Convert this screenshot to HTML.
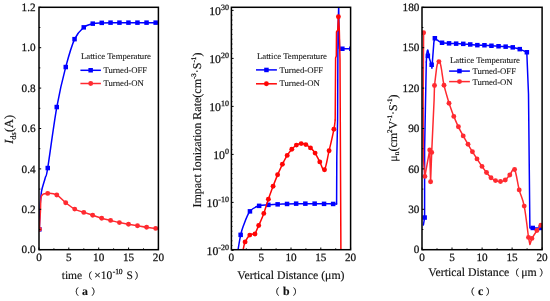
<!DOCTYPE html>
<html><head><meta charset="utf-8"><title>Figure</title>
<style>html,body{margin:0;padding:0;background:#fff}svg{display:block}</style></head>
<body>
<svg width="550" height="301" viewBox="0 0 550 301" font-family="'Liberation Serif', 'Noto Serif CJK SC', serif" fill="#111" text-rendering="geometricPrecision">
<style>text{stroke:#111;stroke-width:0.15px}.lg{stroke-width:0.08px}.tk{stroke-width:0.25px}</style>
<rect width="550" height="301" fill="#fff"/>
<defs>
<clipPath id="ca"><rect x="39.0" y="7.3" width="119.4" height="242.39999999999998"/></clipPath>
<clipPath id="cb"><rect x="231.4" y="7.3" width="119.20000000000002" height="242.39999999999998"/></clipPath>
<clipPath id="cc"><rect x="422.0" y="7.3" width="120.10000000000002" height="242.39999999999998"/></clipPath>
</defs>
<g clip-path="url(#ca)">
<path d="M39.4,229.3 C39.5,225.2 39.9,211.3 40.2,205.0 C40.6,198.7 40.7,195.8 41.5,191.3 C42.3,186.8 44.2,181.9 45.2,178.0 C46.2,174.1 45.8,179.9 47.7,168.1 C49.6,156.3 53.8,123.9 56.8,107.1 C59.8,90.3 62.7,78.4 65.7,67.1 C68.7,55.8 71.6,45.7 74.6,39.1 C77.6,32.5 80.7,30.0 83.7,27.4 C86.7,24.8 89.7,24.4 92.7,23.6 C95.7,22.9 98.7,23.0 101.7,22.9 C104.7,22.8 107.6,22.7 110.6,22.7 C113.6,22.7 116.5,22.7 119.5,22.7 C122.5,22.7 125.5,22.7 128.5,22.7 C131.5,22.7 134.5,22.7 137.5,22.7 C140.5,22.7 143.6,22.7 146.6,22.7 C149.6,22.7 153.7,22.7 155.7,22.7 C157.7,22.7 157.9,22.7 158.4,22.7" fill="none" stroke="#0000ff" stroke-width="1.5" stroke-linejoin="round" stroke-linecap="round"/>
<rect x="37.1" y="227.1" width="4.5" height="4.5" fill="#0000ff"/>
<rect x="45.5" y="165.8" width="4.5" height="4.5" fill="#0000ff"/>
<rect x="54.5" y="104.8" width="4.5" height="4.5" fill="#0000ff"/>
<rect x="63.5" y="64.8" width="4.5" height="4.5" fill="#0000ff"/>
<rect x="72.3" y="36.9" width="4.5" height="4.5" fill="#0000ff"/>
<rect x="81.5" y="25.1" width="4.5" height="4.5" fill="#0000ff"/>
<rect x="90.5" y="21.4" width="4.5" height="4.5" fill="#0000ff"/>
<rect x="99.5" y="20.6" width="4.5" height="4.5" fill="#0000ff"/>
<rect x="108.3" y="20.4" width="4.5" height="4.5" fill="#0000ff"/>
<rect x="117.2" y="20.4" width="4.5" height="4.5" fill="#0000ff"/>
<rect x="126.2" y="20.4" width="4.5" height="4.5" fill="#0000ff"/>
<rect x="135.2" y="20.4" width="4.5" height="4.5" fill="#0000ff"/>
<rect x="144.3" y="20.4" width="4.5" height="4.5" fill="#0000ff"/>
<rect x="153.4" y="20.4" width="4.5" height="4.5" fill="#0000ff"/>
<path d="M39.4,229.3 C39.6,226.4 40.0,217.6 40.4,212.0 C40.8,206.4 40.3,199.1 41.5,196.0 C42.7,192.9 45.2,193.6 47.7,193.4 C50.2,193.2 53.8,193.4 56.8,195.0 C59.8,196.6 62.7,200.3 65.7,202.7 C68.7,205.0 71.7,207.5 74.7,209.1 C77.7,210.7 80.8,211.4 83.8,212.4 C86.8,213.4 89.7,214.2 92.7,215.2 C95.7,216.2 98.7,217.4 101.7,218.3 C104.7,219.2 107.6,219.7 110.6,220.4 C113.5,221.1 116.4,221.9 119.4,222.6 C122.4,223.2 125.5,223.8 128.5,224.3 C131.5,224.8 134.5,225.3 137.5,225.8 C140.5,226.3 143.6,226.9 146.6,227.3 C149.6,227.7 153.7,228.2 155.7,228.4 C157.7,228.6 157.9,228.6 158.4,228.7" fill="none" stroke="#ff2a30" stroke-width="1.5" stroke-linejoin="round" stroke-linecap="round"/>
<circle cx="39.4" cy="229.3" r="2.45" fill="#ff2a30"/>
<circle cx="47.7" cy="193.4" r="2.45" fill="#ff2a30"/>
<circle cx="56.8" cy="195.0" r="2.45" fill="#ff2a30"/>
<circle cx="65.7" cy="202.7" r="2.45" fill="#ff2a30"/>
<circle cx="74.7" cy="209.1" r="2.45" fill="#ff2a30"/>
<circle cx="83.8" cy="212.4" r="2.45" fill="#ff2a30"/>
<circle cx="92.7" cy="215.2" r="2.45" fill="#ff2a30"/>
<circle cx="101.7" cy="218.3" r="2.45" fill="#ff2a30"/>
<circle cx="110.6" cy="220.4" r="2.45" fill="#ff2a30"/>
<circle cx="119.4" cy="222.6" r="2.45" fill="#ff2a30"/>
<circle cx="128.5" cy="224.3" r="2.45" fill="#ff2a30"/>
<circle cx="137.5" cy="225.8" r="2.45" fill="#ff2a30"/>
<circle cx="146.6" cy="227.3" r="2.45" fill="#ff2a30"/>
<circle cx="155.7" cy="228.4" r="2.45" fill="#ff2a30"/>
</g>
<rect x="39.0" y="7.3" width="119.4" height="242.39999999999998" fill="none" stroke="#000" stroke-width="1.5"/>
<line x1="39.0" y1="249.7" x2="39.0" y2="247.5" stroke="#000" stroke-width="1"/>
<line x1="53.9" y1="249.7" x2="53.9" y2="248.35" stroke="#000" stroke-width="1"/>
<line x1="68.8" y1="249.7" x2="68.8" y2="247.5" stroke="#000" stroke-width="1"/>
<line x1="83.8" y1="249.7" x2="83.8" y2="248.35" stroke="#000" stroke-width="1"/>
<line x1="98.7" y1="249.7" x2="98.7" y2="247.5" stroke="#000" stroke-width="1"/>
<line x1="113.6" y1="249.7" x2="113.6" y2="248.35" stroke="#000" stroke-width="1"/>
<line x1="128.6" y1="249.7" x2="128.6" y2="247.5" stroke="#000" stroke-width="1"/>
<line x1="143.5" y1="249.7" x2="143.5" y2="248.35" stroke="#000" stroke-width="1"/>
<line x1="158.4" y1="249.7" x2="158.4" y2="247.5" stroke="#000" stroke-width="1"/>
<text x="39.0" y="261.0" font-size="11.2" class="tk" text-anchor="middle">0</text>
<text x="68.8" y="261.0" font-size="11.2" class="tk" text-anchor="middle">5</text>
<text x="98.7" y="261.0" font-size="11.2" class="tk" text-anchor="middle">10</text>
<text x="128.6" y="261.0" font-size="11.2" class="tk" text-anchor="middle">15</text>
<text x="158.4" y="261.0" font-size="11.2" class="tk" text-anchor="middle">20</text>
<line x1="39.0" y1="249.7" x2="41.2" y2="249.7" stroke="#000" stroke-width="1"/>
<line x1="39.0" y1="229.5" x2="40.35" y2="229.5" stroke="#000" stroke-width="1"/>
<line x1="39.0" y1="209.3" x2="41.2" y2="209.3" stroke="#000" stroke-width="1"/>
<line x1="39.0" y1="189.1" x2="40.35" y2="189.1" stroke="#000" stroke-width="1"/>
<line x1="39.0" y1="168.9" x2="41.2" y2="168.9" stroke="#000" stroke-width="1"/>
<line x1="39.0" y1="148.7" x2="40.35" y2="148.7" stroke="#000" stroke-width="1"/>
<line x1="39.0" y1="128.5" x2="41.2" y2="128.5" stroke="#000" stroke-width="1"/>
<line x1="39.0" y1="108.3" x2="40.35" y2="108.3" stroke="#000" stroke-width="1"/>
<line x1="39.0" y1="88.1" x2="41.2" y2="88.1" stroke="#000" stroke-width="1"/>
<line x1="39.0" y1="67.9" x2="40.35" y2="67.9" stroke="#000" stroke-width="1"/>
<line x1="39.0" y1="47.7" x2="41.2" y2="47.7" stroke="#000" stroke-width="1"/>
<line x1="39.0" y1="27.5" x2="40.35" y2="27.5" stroke="#000" stroke-width="1"/>
<line x1="39.0" y1="7.3" x2="41.2" y2="7.3" stroke="#000" stroke-width="1"/>
<text x="35.6" y="253.4" font-size="11.2" class="tk" text-anchor="end">0.0</text>
<text x="35.6" y="213.0" font-size="11.2" class="tk" text-anchor="end">0.2</text>
<text x="35.6" y="172.6" font-size="11.2" class="tk" text-anchor="end">0.4</text>
<text x="35.6" y="132.2" font-size="11.2" class="tk" text-anchor="end">0.6</text>
<text x="35.6" y="91.8" font-size="11.2" class="tk" text-anchor="end">0.8</text>
<text x="35.6" y="51.4" font-size="11.2" class="tk" text-anchor="end">1.0</text>
<text x="35.6" y="11.0" font-size="11.2" class="tk" text-anchor="end">1.2</text>
<text x="81.0" y="58.5" font-size="8.7" class="lg">Lattice Temperature</text>
<line x1="80.4" y1="70.3" x2="100.9" y2="70.3" stroke="#0000ff" stroke-width="1.5"/>
<rect x="88.4" y="68.0" width="4.5" height="4.5" fill="#0000ff"/>
<text x="103.5" y="72.6" font-size="8.7" class="lg">Turned-OFF</text>
<line x1="80.4" y1="83.5" x2="100.9" y2="83.5" stroke="#ff2a30" stroke-width="1.5"/>
<circle cx="90.7" cy="83.5" r="2.45" fill="#ff2a30"/>
<text x="103.5" y="86.3" font-size="8.7" class="lg">Turned-ON</text>
<text transform="translate(13.0,143.8) rotate(-90)" font-size="12.4"><tspan font-style="italic">I</tspan><tspan font-size="8.5" dy="2.8">ds</tspan><tspan dy="-2.8">(A)</tspan></text>
<text y="278.7" font-size="11.5"><tspan x="61.7">time</tspan><tspan x="83.35" font-size="9" font-weight="600">（</tspan><tspan x="94.3">×10</tspan><tspan font-size="7.6" dy="-4.9" dx="0.5" letter-spacing="-0.2" class="tk">-10 </tspan><tspan x="126.5" dy="4.9">S</tspan><tspan x="134.5" font-size="9" font-weight="600">）</tspan></text>
<text y="295.2" font-size="11.8"><tspan x="69.95" font-size="9" font-weight="600">（</tspan><tspan x="82.0" font-weight="bold">a</tspan><tspan x="91.25" font-size="9" font-weight="600">）</tspan></text>
<g clip-path="url(#cb)">
<path d="M238.0,250.0 C238.4,247.5 239.8,238.8 240.7,234.8 C241.6,230.8 241.8,229.9 243.3,226.0 C244.8,222.1 247.3,214.7 249.9,211.3 C252.5,207.9 256.0,206.9 259.1,205.8 C262.2,204.7 265.3,205.1 268.4,204.8 C271.5,204.6 274.6,204.5 277.7,204.3 C280.8,204.2 283.9,204.0 287.0,203.9 C290.1,203.8 293.1,203.7 296.2,203.7 C299.3,203.7 302.3,203.7 305.4,203.7 C308.5,203.7 311.6,203.7 314.7,203.7 C317.8,203.7 320.9,203.8 324.0,203.8 C327.1,203.8 331.1,203.9 333.2,203.9 C335.3,203.9 336.0,203.9 336.6,203.9" fill="none" stroke="#0000ff" stroke-width="1.5" stroke-linejoin="round" stroke-linecap="round"/>
<polyline points="336.6,203.9 336.8,157.0 337.6,120.0 338.0,30.0 338.7,6.0 339.0,30.0 339.6,48.8 351.0,48.8" fill="none" stroke="#0000ff" stroke-width="1.5" stroke-linejoin="round" stroke-linecap="round" />
<rect x="238.4" y="232.6" width="4.5" height="4.5" fill="#0000ff"/>
<rect x="247.7" y="209.1" width="4.5" height="4.5" fill="#0000ff"/>
<rect x="256.9" y="203.6" width="4.5" height="4.5" fill="#0000ff"/>
<rect x="266.1" y="202.6" width="4.5" height="4.5" fill="#0000ff"/>
<rect x="275.4" y="202.1" width="4.5" height="4.5" fill="#0000ff"/>
<rect x="284.8" y="201.7" width="4.5" height="4.5" fill="#0000ff"/>
<rect x="293.9" y="201.4" width="4.5" height="4.5" fill="#0000ff"/>
<rect x="303.1" y="201.4" width="4.5" height="4.5" fill="#0000ff"/>
<rect x="312.4" y="201.4" width="4.5" height="4.5" fill="#0000ff"/>
<rect x="321.8" y="201.6" width="4.5" height="4.5" fill="#0000ff"/>
<rect x="330.9" y="201.7" width="4.5" height="4.5" fill="#0000ff"/>
<rect x="340.1" y="46.5" width="4.5" height="4.5" fill="#0000ff"/>
<rect x="349.1" y="46.5" width="4.5" height="4.5" fill="#0000ff"/>
<path d="M243.1,250.0 C243.4,248.7 244.0,244.4 245.1,241.9 C246.2,239.4 248.2,236.4 249.8,235.1 C251.5,233.8 254.1,234.2 255.0,234.0" fill="none" stroke="#ff0505" stroke-width="1.5" stroke-linejoin="round" stroke-linecap="round"/>
<path d="M255.0,234.0 C255.6,232.6 257.2,228.9 258.7,225.5 C260.2,222.1 262.2,217.8 263.8,213.4 C265.4,209.0 266.8,203.7 268.4,199.2 C269.9,194.7 271.6,190.3 273.1,186.2 C274.6,182.1 276.1,178.5 277.6,174.8 C279.2,171.2 280.8,167.5 282.4,164.3 C284.0,161.1 285.6,157.9 287.2,155.4 C288.8,152.9 290.3,150.9 291.8,149.2 C293.3,147.5 294.8,146.0 296.4,145.1 C298.0,144.2 299.6,143.7 301.2,143.6 C302.8,143.5 304.2,143.9 305.8,144.6 C307.4,145.3 308.9,146.5 310.5,147.9 C312.1,149.3 313.6,150.8 315.1,153.1 C316.7,155.4 318.2,159.1 319.8,161.9 C321.4,164.7 322.9,171.6 324.5,169.7 C326.1,167.8 327.5,157.4 329.1,150.7 C330.7,144.0 332.9,134.4 333.9,129.3 C334.9,124.2 335.0,121.5 335.2,120.0" fill="none" stroke="#ff0505" stroke-width="1.5" stroke-linejoin="round" stroke-linecap="round"/>
<polyline points="335.2,120.0 335.6,58.0 336.3,56.0 336.5,32.0 337.8,30.0 338.4,16.7 339.3,30.0 340.0,60.0 340.9,250.0" fill="none" stroke="#ff0505" stroke-width="1.5" stroke-linejoin="round" stroke-linecap="round" />
<circle cx="245.1" cy="241.9" r="2.45" fill="#ff0505"/>
<circle cx="249.8" cy="235.1" r="2.45" fill="#ff0505"/>
<circle cx="255.0" cy="234.0" r="2.45" fill="#ff0505"/>
<circle cx="258.7" cy="225.5" r="2.45" fill="#ff0505"/>
<circle cx="263.8" cy="213.4" r="2.45" fill="#ff0505"/>
<circle cx="268.4" cy="199.2" r="2.45" fill="#ff0505"/>
<circle cx="273.1" cy="186.2" r="2.45" fill="#ff0505"/>
<circle cx="277.6" cy="174.8" r="2.45" fill="#ff0505"/>
<circle cx="282.4" cy="164.3" r="2.45" fill="#ff0505"/>
<circle cx="287.2" cy="155.4" r="2.45" fill="#ff0505"/>
<circle cx="291.8" cy="149.2" r="2.45" fill="#ff0505"/>
<circle cx="296.4" cy="145.1" r="2.45" fill="#ff0505"/>
<circle cx="301.2" cy="143.6" r="2.45" fill="#ff0505"/>
<circle cx="305.8" cy="144.6" r="2.45" fill="#ff0505"/>
<circle cx="310.5" cy="147.9" r="2.45" fill="#ff0505"/>
<circle cx="315.1" cy="153.1" r="2.45" fill="#ff0505"/>
<circle cx="319.8" cy="161.9" r="2.45" fill="#ff0505"/>
<circle cx="324.5" cy="169.7" r="2.45" fill="#ff0505"/>
<circle cx="329.1" cy="150.7" r="2.45" fill="#ff0505"/>
<circle cx="333.9" cy="129.3" r="2.45" fill="#ff0505"/>
<circle cx="338.4" cy="16.7" r="2.45" fill="#ff0505"/>
</g>
<rect x="231.4" y="7.3" width="119.20000000000002" height="242.39999999999998" fill="none" stroke="#000" stroke-width="1.5"/>
<line x1="231.4" y1="249.7" x2="231.4" y2="247.5" stroke="#000" stroke-width="1"/>
<line x1="246.3" y1="249.7" x2="246.3" y2="248.35" stroke="#000" stroke-width="1"/>
<line x1="261.2" y1="249.7" x2="261.2" y2="247.5" stroke="#000" stroke-width="1"/>
<line x1="276.1" y1="249.7" x2="276.1" y2="248.35" stroke="#000" stroke-width="1"/>
<line x1="291.0" y1="249.7" x2="291.0" y2="247.5" stroke="#000" stroke-width="1"/>
<line x1="305.9" y1="249.7" x2="305.9" y2="248.35" stroke="#000" stroke-width="1"/>
<line x1="320.8" y1="249.7" x2="320.8" y2="247.5" stroke="#000" stroke-width="1"/>
<line x1="335.7" y1="249.7" x2="335.7" y2="248.35" stroke="#000" stroke-width="1"/>
<line x1="350.6" y1="249.7" x2="350.6" y2="247.5" stroke="#000" stroke-width="1"/>
<text x="231.4" y="261.0" font-size="11.2" class="tk" text-anchor="middle">0</text>
<text x="261.2" y="261.0" font-size="11.2" class="tk" text-anchor="middle">5</text>
<text x="291.0" y="261.0" font-size="11.2" class="tk" text-anchor="middle">10</text>
<text x="320.8" y="261.0" font-size="11.2" class="tk" text-anchor="middle">15</text>
<text x="350.6" y="261.0" font-size="11.2" class="tk" text-anchor="middle">20</text>
<line x1="231.4" y1="250.4" x2="233.6" y2="250.4" stroke="#000" stroke-width="1"/>
<line x1="231.4" y1="245.6" x2="232.65" y2="245.6" stroke="#000" stroke-width="0.6"/>
<line x1="231.4" y1="240.8" x2="232.65" y2="240.8" stroke="#000" stroke-width="0.6"/>
<line x1="231.4" y1="236.0" x2="232.65" y2="236.0" stroke="#000" stroke-width="0.6"/>
<line x1="231.4" y1="231.2" x2="232.65" y2="231.2" stroke="#000" stroke-width="0.6"/>
<line x1="231.4" y1="226.4" x2="232.65" y2="226.4" stroke="#000" stroke-width="0.6"/>
<line x1="231.4" y1="221.6" x2="232.65" y2="221.6" stroke="#000" stroke-width="0.6"/>
<line x1="231.4" y1="216.8" x2="232.65" y2="216.8" stroke="#000" stroke-width="0.6"/>
<line x1="231.4" y1="212.0" x2="232.65" y2="212.0" stroke="#000" stroke-width="0.6"/>
<line x1="231.4" y1="207.2" x2="232.65" y2="207.2" stroke="#000" stroke-width="0.6"/>
<line x1="231.4" y1="202.4" x2="233.6" y2="202.4" stroke="#000" stroke-width="1"/>
<line x1="231.4" y1="197.6" x2="232.65" y2="197.6" stroke="#000" stroke-width="0.6"/>
<line x1="231.4" y1="192.8" x2="232.65" y2="192.8" stroke="#000" stroke-width="0.6"/>
<line x1="231.4" y1="188.0" x2="232.65" y2="188.0" stroke="#000" stroke-width="0.6"/>
<line x1="231.4" y1="183.2" x2="232.65" y2="183.2" stroke="#000" stroke-width="0.6"/>
<line x1="231.4" y1="178.4" x2="232.65" y2="178.4" stroke="#000" stroke-width="0.6"/>
<line x1="231.4" y1="173.6" x2="232.65" y2="173.6" stroke="#000" stroke-width="0.6"/>
<line x1="231.4" y1="168.8" x2="232.65" y2="168.8" stroke="#000" stroke-width="0.6"/>
<line x1="231.4" y1="164.0" x2="232.65" y2="164.0" stroke="#000" stroke-width="0.6"/>
<line x1="231.4" y1="159.2" x2="232.65" y2="159.2" stroke="#000" stroke-width="0.6"/>
<line x1="231.4" y1="154.4" x2="233.6" y2="154.4" stroke="#000" stroke-width="1"/>
<line x1="231.4" y1="149.6" x2="232.65" y2="149.6" stroke="#000" stroke-width="0.6"/>
<line x1="231.4" y1="144.8" x2="232.65" y2="144.8" stroke="#000" stroke-width="0.6"/>
<line x1="231.4" y1="140.0" x2="232.65" y2="140.0" stroke="#000" stroke-width="0.6"/>
<line x1="231.4" y1="135.2" x2="232.65" y2="135.2" stroke="#000" stroke-width="0.6"/>
<line x1="231.4" y1="130.4" x2="232.65" y2="130.4" stroke="#000" stroke-width="0.6"/>
<line x1="231.4" y1="125.6" x2="232.65" y2="125.6" stroke="#000" stroke-width="0.6"/>
<line x1="231.4" y1="120.8" x2="232.65" y2="120.8" stroke="#000" stroke-width="0.6"/>
<line x1="231.4" y1="116.0" x2="232.65" y2="116.0" stroke="#000" stroke-width="0.6"/>
<line x1="231.4" y1="111.2" x2="232.65" y2="111.2" stroke="#000" stroke-width="0.6"/>
<line x1="231.4" y1="106.4" x2="233.6" y2="106.4" stroke="#000" stroke-width="1"/>
<line x1="231.4" y1="101.6" x2="232.65" y2="101.6" stroke="#000" stroke-width="0.6"/>
<line x1="231.4" y1="96.8" x2="232.65" y2="96.8" stroke="#000" stroke-width="0.6"/>
<line x1="231.4" y1="92.0" x2="232.65" y2="92.0" stroke="#000" stroke-width="0.6"/>
<line x1="231.4" y1="87.2" x2="232.65" y2="87.2" stroke="#000" stroke-width="0.6"/>
<line x1="231.4" y1="82.4" x2="232.65" y2="82.4" stroke="#000" stroke-width="0.6"/>
<line x1="231.4" y1="77.6" x2="232.65" y2="77.6" stroke="#000" stroke-width="0.6"/>
<line x1="231.4" y1="72.8" x2="232.65" y2="72.8" stroke="#000" stroke-width="0.6"/>
<line x1="231.4" y1="68.0" x2="232.65" y2="68.0" stroke="#000" stroke-width="0.6"/>
<line x1="231.4" y1="63.2" x2="232.65" y2="63.2" stroke="#000" stroke-width="0.6"/>
<line x1="231.4" y1="58.4" x2="233.6" y2="58.4" stroke="#000" stroke-width="1"/>
<line x1="231.4" y1="53.6" x2="232.65" y2="53.6" stroke="#000" stroke-width="0.6"/>
<line x1="231.4" y1="48.8" x2="232.65" y2="48.8" stroke="#000" stroke-width="0.6"/>
<line x1="231.4" y1="44.0" x2="232.65" y2="44.0" stroke="#000" stroke-width="0.6"/>
<line x1="231.4" y1="39.2" x2="232.65" y2="39.2" stroke="#000" stroke-width="0.6"/>
<line x1="231.4" y1="34.4" x2="232.65" y2="34.4" stroke="#000" stroke-width="0.6"/>
<line x1="231.4" y1="29.6" x2="232.65" y2="29.6" stroke="#000" stroke-width="0.6"/>
<line x1="231.4" y1="24.8" x2="232.65" y2="24.8" stroke="#000" stroke-width="0.6"/>
<line x1="231.4" y1="20.0" x2="232.65" y2="20.0" stroke="#000" stroke-width="0.6"/>
<line x1="231.4" y1="15.2" x2="232.65" y2="15.2" stroke="#000" stroke-width="0.6"/>
<line x1="231.4" y1="10.4" x2="233.6" y2="10.4" stroke="#000" stroke-width="1"/>
<text x="229.0" y="255.2" font-size="11.8" class="tk" text-anchor="end">10<tspan font-size="8" dy="-5.0">-20</tspan></text>
<text x="229.0" y="207.2" font-size="11.8" class="tk" text-anchor="end">10<tspan font-size="8" dy="-5.0">-10</tspan></text>
<text x="229.0" y="159.2" font-size="11.8" class="tk" text-anchor="end">10<tspan font-size="8" dy="-5.0">0</tspan></text>
<text x="229.0" y="111.2" font-size="11.8" class="tk" text-anchor="end">10<tspan font-size="8" dy="-5.0">10</tspan></text>
<text x="229.0" y="63.2" font-size="11.8" class="tk" text-anchor="end">10<tspan font-size="8" dy="-5.0">20</tspan></text>
<text x="229.0" y="15.2" font-size="11.8" class="tk" text-anchor="end">10<tspan font-size="8" dy="-5.0">30</tspan></text>
<text x="257.0" y="58.5" font-size="8.7" class="lg">Lattice Temperature</text>
<line x1="256.0" y1="69.9" x2="276.9" y2="69.9" stroke="#0000ff" stroke-width="1.5"/>
<rect x="264.2" y="67.7" width="4.5" height="4.5" fill="#0000ff"/>
<text x="279.5" y="72.5" font-size="8.7" class="lg">Turned-OFF</text>
<line x1="256.0" y1="83.8" x2="276.9" y2="83.8" stroke="#ff0505" stroke-width="1.5"/>
<circle cx="266.4" cy="83.8" r="2.45" fill="#ff0505"/>
<text x="279.5" y="86.3" font-size="8.7" class="lg">Turned-ON</text>
<text transform="translate(200.8,207.6) rotate(-90)" font-size="12">Impact Ionization Rate(cm<tspan font-size="7" dy="-4.8" class="tk">-3</tspan><tspan dy="4.8">·S</tspan><tspan font-size="7" dy="-4.8" class="tk">-1</tspan><tspan dy="4.8">)</tspan></text>
<text x="237.3" y="279.4" font-size="11.8">Vertical Distance (μm)</text>
<text y="295.2" font-size="11.8"><tspan x="270.5" font-size="9" font-weight="600">（</tspan><tspan x="283.0" font-weight="bold">b</tspan><tspan x="292.65" font-size="9" font-weight="600">）</tspan></text>
<g clip-path="url(#cc)">
<polyline points="423.4,225.0 424.6,217.6 424.6,150.0 425.4,108.0 426.3,62.0" fill="none" stroke="#0000ff" stroke-width="1.5" stroke-linejoin="round" stroke-linecap="round" />
<path d="M426.3,62.0 C426.4,60.7 426.6,56.0 426.8,54.0 C427.0,52.0 427.4,50.1 427.7,50.0 C428.0,49.9 428.3,52.1 428.6,53.5 C428.9,54.9 428.9,56.6 429.4,58.5 C429.9,60.4 431.2,63.7 431.6,64.7" fill="none" stroke="#0000ff" stroke-width="1.5" stroke-linejoin="round" stroke-linecap="round"/>
<polyline points="431.6,64.7 431.9,68.2 433.9,42.0 434.8,38.3" fill="none" stroke="#0000ff" stroke-width="1.5" stroke-linejoin="round" stroke-linecap="round" />
<path d="M434.8,38.3 C435.2,38.6 436.3,39.5 437.5,40.2 C438.7,41.0 440.1,42.3 442.0,42.8 C443.9,43.3 446.7,43.3 449.1,43.4 C451.4,43.5 453.8,43.5 456.1,43.6 C458.5,43.7 460.9,43.8 463.2,43.9 C465.6,44.0 467.9,44.3 470.3,44.5 C472.6,44.7 475.0,45.0 477.4,45.1 C479.7,45.2 482.1,45.2 484.4,45.3 C486.8,45.4 489.1,45.6 491.5,45.7 C493.8,45.9 496.2,46.1 498.6,46.2 C500.9,46.4 503.3,46.4 505.6,46.6 C508.0,46.8 510.3,47.0 512.7,47.4 C515.1,47.8 517.4,48.3 519.8,49.1 C522.1,49.9 525.7,51.8 526.8,52.3" fill="none" stroke="#0000ff" stroke-width="1.5" stroke-linejoin="round" stroke-linecap="round"/>
<polyline points="526.8,52.3 528.5,94.0 529.9,227.9 541.9,227.9" fill="none" stroke="#0000ff" stroke-width="1.5" stroke-linejoin="round" stroke-linecap="round" />
<rect x="422.4" y="215.3" width="4.5" height="4.5" fill="#0000ff"/>
<rect x="425.6" y="53.6" width="4.5" height="4.5" fill="#0000ff"/>
<rect x="429.4" y="62.5" width="4.5" height="4.5" fill="#0000ff"/>
<rect x="432.6" y="36.0" width="4.5" height="4.5" fill="#0000ff"/>
<rect x="439.8" y="40.5" width="4.5" height="4.5" fill="#0000ff"/>
<rect x="446.8" y="41.1" width="4.5" height="4.5" fill="#0000ff"/>
<rect x="453.9" y="41.4" width="4.5" height="4.5" fill="#0000ff"/>
<rect x="461.0" y="41.6" width="4.5" height="4.5" fill="#0000ff"/>
<rect x="468.0" y="42.2" width="4.5" height="4.5" fill="#0000ff"/>
<rect x="475.1" y="42.9" width="4.5" height="4.5" fill="#0000ff"/>
<rect x="482.2" y="43.0" width="4.5" height="4.5" fill="#0000ff"/>
<rect x="489.2" y="43.5" width="4.5" height="4.5" fill="#0000ff"/>
<rect x="496.3" y="44.0" width="4.5" height="4.5" fill="#0000ff"/>
<rect x="503.4" y="44.4" width="4.5" height="4.5" fill="#0000ff"/>
<rect x="510.5" y="45.1" width="4.5" height="4.5" fill="#0000ff"/>
<rect x="517.5" y="46.9" width="4.5" height="4.5" fill="#0000ff"/>
<rect x="524.6" y="50.0" width="4.5" height="4.5" fill="#0000ff"/>
<rect x="530.5" y="225.7" width="4.5" height="4.5" fill="#0000ff"/>
<rect x="538.4" y="225.7" width="4.5" height="4.5" fill="#0000ff"/>
<polyline points="423.6,32.7 423.2,100.0 423.4,160.0 424.9,176.4 429.7,149.9 430.6,181.8 431.7,152.4 434.1,100.0 434.5,85.5" fill="none" stroke="#ff2a30" stroke-width="1.5" stroke-linejoin="round" stroke-linecap="round" />
<path d="M434.5,85.5 C434.9,82.6 436.1,71.8 436.6,68.0 C437.2,64.2 437.4,63.7 437.8,62.6 C438.2,61.5 438.5,61.3 438.9,61.4 C439.3,61.5 439.8,61.6 440.2,63.0 C440.6,64.4 441.0,66.3 441.6,70.0 C442.2,73.7 442.8,79.7 444.0,85.2 C445.2,90.7 448.2,100.2 449.0,103.2" fill="none" stroke="#ff2a30" stroke-width="1.5" stroke-linejoin="round" stroke-linecap="round"/>
<path d="M449.0,103.2 C449.8,105.4 452.2,112.5 453.8,116.4 C455.4,120.3 456.8,123.5 458.4,126.8 C460.0,130.1 461.6,133.0 463.2,135.9 C464.8,138.8 466.5,141.7 468.0,144.3 C469.5,146.9 470.9,149.3 472.4,151.7 C473.9,154.1 475.4,156.4 477.0,158.9 C478.6,161.4 480.4,164.1 482.0,166.4 C483.6,168.7 485.0,170.6 486.5,172.5 C488.0,174.4 489.5,176.3 491.0,177.7 C492.5,179.0 493.9,180.0 495.5,180.6 C497.1,181.2 498.9,181.6 500.5,181.5 C502.1,181.4 503.8,181.1 505.3,180.0 C506.9,178.9 508.2,176.8 509.8,175.0 C511.4,173.2 513.0,167.0 514.6,169.5 C516.2,172.0 517.6,183.8 519.2,189.9 C520.8,196.0 522.7,198.2 524.2,206.1 C525.8,214.0 527.8,232.2 528.5,237.4" fill="none" stroke="#ff2a30" stroke-width="1.5" stroke-linejoin="round" stroke-linecap="round"/>
<polyline points="528.5,237.4 529.9,244.5 531.9,238.4 536.9,230.5 540.9,225.3" fill="none" stroke="#ff2a30" stroke-width="1.5" stroke-linejoin="round" stroke-linecap="round" />
<circle cx="423.6" cy="32.7" r="2.45" fill="#ff2a30"/>
<circle cx="424.9" cy="176.4" r="2.45" fill="#ff2a30"/>
<circle cx="429.7" cy="149.9" r="2.45" fill="#ff2a30"/>
<circle cx="430.6" cy="181.8" r="2.45" fill="#ff2a30"/>
<circle cx="431.7" cy="152.4" r="2.45" fill="#ff2a30"/>
<circle cx="434.5" cy="85.5" r="2.45" fill="#ff2a30"/>
<circle cx="438.9" cy="61.6" r="2.45" fill="#ff2a30"/>
<circle cx="444.0" cy="85.2" r="2.45" fill="#ff2a30"/>
<circle cx="449.0" cy="103.2" r="2.45" fill="#ff2a30"/>
<circle cx="453.8" cy="116.4" r="2.45" fill="#ff2a30"/>
<circle cx="458.4" cy="126.8" r="2.45" fill="#ff2a30"/>
<circle cx="463.2" cy="135.9" r="2.45" fill="#ff2a30"/>
<circle cx="468.0" cy="144.3" r="2.45" fill="#ff2a30"/>
<circle cx="472.4" cy="151.7" r="2.45" fill="#ff2a30"/>
<circle cx="477.0" cy="158.9" r="2.45" fill="#ff2a30"/>
<circle cx="482.0" cy="166.4" r="2.45" fill="#ff2a30"/>
<circle cx="486.5" cy="172.5" r="2.45" fill="#ff2a30"/>
<circle cx="491.0" cy="177.7" r="2.45" fill="#ff2a30"/>
<circle cx="495.5" cy="180.6" r="2.45" fill="#ff2a30"/>
<circle cx="500.5" cy="181.5" r="2.45" fill="#ff2a30"/>
<circle cx="505.3" cy="180.0" r="2.45" fill="#ff2a30"/>
<circle cx="509.8" cy="175.0" r="2.45" fill="#ff2a30"/>
<circle cx="514.6" cy="169.5" r="2.45" fill="#ff2a30"/>
<circle cx="519.2" cy="189.9" r="2.45" fill="#ff2a30"/>
<circle cx="524.2" cy="206.1" r="2.45" fill="#ff2a30"/>
<circle cx="528.5" cy="237.4" r="2.45" fill="#ff2a30"/>
<circle cx="531.9" cy="238.4" r="2.45" fill="#ff2a30"/>
<circle cx="536.9" cy="230.5" r="2.45" fill="#ff2a30"/>
<circle cx="540.9" cy="225.3" r="2.45" fill="#ff2a30"/>
</g>
<rect x="422.0" y="7.3" width="120.10000000000002" height="242.39999999999998" fill="none" stroke="#000" stroke-width="1.5"/>
<line x1="422.0" y1="249.7" x2="422.0" y2="247.5" stroke="#000" stroke-width="1"/>
<line x1="437.0" y1="249.7" x2="437.0" y2="248.35" stroke="#000" stroke-width="1"/>
<line x1="452.0" y1="249.7" x2="452.0" y2="247.5" stroke="#000" stroke-width="1"/>
<line x1="467.0" y1="249.7" x2="467.0" y2="248.35" stroke="#000" stroke-width="1"/>
<line x1="482.1" y1="249.7" x2="482.1" y2="247.5" stroke="#000" stroke-width="1"/>
<line x1="497.1" y1="249.7" x2="497.1" y2="248.35" stroke="#000" stroke-width="1"/>
<line x1="512.1" y1="249.7" x2="512.1" y2="247.5" stroke="#000" stroke-width="1"/>
<line x1="527.1" y1="249.7" x2="527.1" y2="248.35" stroke="#000" stroke-width="1"/>
<line x1="542.1" y1="249.7" x2="542.1" y2="247.5" stroke="#000" stroke-width="1"/>
<text x="422.0" y="261.0" font-size="11.2" class="tk" text-anchor="middle">0</text>
<text x="452.0" y="261.0" font-size="11.2" class="tk" text-anchor="middle">5</text>
<text x="482.1" y="261.0" font-size="11.2" class="tk" text-anchor="middle">10</text>
<text x="512.1" y="261.0" font-size="11.2" class="tk" text-anchor="middle">15</text>
<text x="542.1" y="261.0" font-size="11.2" class="tk" text-anchor="middle">20</text>
<line x1="422.0" y1="249.7" x2="424.2" y2="249.7" stroke="#000" stroke-width="1"/>
<line x1="422.0" y1="229.5" x2="423.35" y2="229.5" stroke="#000" stroke-width="1"/>
<line x1="422.0" y1="209.3" x2="424.2" y2="209.3" stroke="#000" stroke-width="1"/>
<line x1="422.0" y1="189.1" x2="423.35" y2="189.1" stroke="#000" stroke-width="1"/>
<line x1="422.0" y1="168.9" x2="424.2" y2="168.9" stroke="#000" stroke-width="1"/>
<line x1="422.0" y1="148.7" x2="423.35" y2="148.7" stroke="#000" stroke-width="1"/>
<line x1="422.0" y1="128.5" x2="424.2" y2="128.5" stroke="#000" stroke-width="1"/>
<line x1="422.0" y1="108.3" x2="423.35" y2="108.3" stroke="#000" stroke-width="1"/>
<line x1="422.0" y1="88.1" x2="424.2" y2="88.1" stroke="#000" stroke-width="1"/>
<line x1="422.0" y1="67.9" x2="423.35" y2="67.9" stroke="#000" stroke-width="1"/>
<line x1="422.0" y1="47.7" x2="424.2" y2="47.7" stroke="#000" stroke-width="1"/>
<line x1="422.0" y1="27.5" x2="423.35" y2="27.5" stroke="#000" stroke-width="1"/>
<line x1="422.0" y1="7.3" x2="424.2" y2="7.3" stroke="#000" stroke-width="1"/>
<text x="419.4" y="253.4" font-size="11.2" class="tk" text-anchor="end">0</text>
<text x="419.4" y="213.0" font-size="11.2" class="tk" text-anchor="end">30</text>
<text x="419.4" y="172.6" font-size="11.2" class="tk" text-anchor="end">60</text>
<text x="419.4" y="132.2" font-size="11.2" class="tk" text-anchor="end">90</text>
<text x="419.4" y="91.8" font-size="11.2" class="tk" text-anchor="end">120</text>
<text x="419.4" y="51.4" font-size="11.2" class="tk" text-anchor="end">150</text>
<text x="419.4" y="11.0" font-size="11.2" class="tk" text-anchor="end">180</text>
<text x="450.0" y="63.2" font-size="8.7" class="lg">Lattice Temperature</text>
<line x1="449.1" y1="71.1" x2="469.9" y2="71.1" stroke="#0000ff" stroke-width="1.5"/>
<rect x="457.2" y="68.8" width="4.5" height="4.5" fill="#0000ff"/>
<text x="472.4" y="73.9" font-size="8.7" class="lg">Turned-OFF</text>
<line x1="449.1" y1="81.6" x2="469.9" y2="81.6" stroke="#ff2a30" stroke-width="1.5"/>
<circle cx="459.5" cy="81.6" r="2.45" fill="#ff2a30"/>
<text x="472.4" y="84.7" font-size="8.7" class="lg">Turned-ON</text>
<text transform="translate(396.6,161.8) rotate(-90)" font-size="12">μ<tspan font-size="7.5" dy="2.6">n</tspan><tspan dy="-2.6">(cm</tspan><tspan font-size="7" dy="-4.8" class="tk">2</tspan><tspan dy="4.8">V</tspan><tspan font-size="7" dy="-4.8" class="tk">-1</tspan><tspan dy="4.8">·S</tspan><tspan font-size="7" dy="-4.8" class="tk">-1</tspan><tspan dy="4.8">)</tspan></text>
<text y="276.3" font-size="11.8"><tspan x="428.3">Vertical Distance </tspan><tspan x="510.35" font-size="9" font-weight="600">（</tspan><tspan x="521.2">μm</tspan><tspan x="539.15" font-size="9" font-weight="600">）</tspan></text>
<text y="295.2" font-size="11.8"><tspan x="465.85" font-size="9" font-weight="600">（</tspan><tspan x="477.9" font-weight="bold">c</tspan><tspan x="485.85" font-size="9" font-weight="600">）</tspan></text>
</svg>
</body></html>
